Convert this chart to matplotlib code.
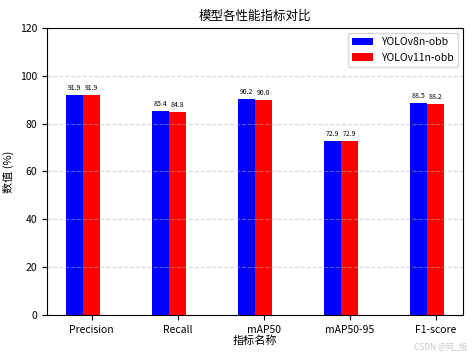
import matplotlib
matplotlib.use("Agg")
import matplotlib.pyplot as plt
import numpy as np

plt.rcParams['font.family'] = ['Noto Sans CJK SC', 'DejaVu Sans']
plt.rcParams['axes.unicode_minus'] = False

categories = ['Precision', 'Recall', 'mAP50', 'mAP50-95', 'F1-score']
v8 = [91.9, 85.4, 90.2, 72.9, 88.5]
v11 = [91.9, 84.8, 90.0, 72.9, 88.2]
series_names = ['YOLOv8n-obb', 'YOLOv11n-obb']

fig = plt.figure(figsize=(4.74, 3.55), dpi=100)
ax = fig.add_axes([0.099, 0.113, 0.878, 0.808])

x = np.arange(len(categories))
w = 0.2
b1 = ax.bar(x, v8, w, color='blue', label=series_names[0])
b2 = ax.bar(x + w, v11, w, color='red', label=series_names[1])

for bars in (b1, b2):
    for b in bars:
        ax.text(b.get_x() + b.get_width() / 2, b.get_height() + 1.2,
                f'{b.get_height():.1f}', ha='center', va='bottom', fontsize=5)

ax.set_xticks(x + w)
ax.set_xticklabels(categories, fontsize=7.5)
ax.tick_params(axis='y', labelsize=7.5)
ax.set_ylim(0, 120)
ax.set_title('模型各性能指标对比', fontsize=9)
ax.set_xlabel('指标名称', fontsize=8, labelpad=1)
ax.set_ylabel('数值 (%)', fontsize=8)
ax.yaxis.grid(True, linestyle='--', alpha=0.5)
ax.legend(loc='upper right', fontsize=7.5)

fig.text(0.985, 0.01, 'CSDN @阿_旭', ha='right', va='bottom', fontsize=6, color='#c8c8c8')

fig.savefig('out.png', dpi=100)
